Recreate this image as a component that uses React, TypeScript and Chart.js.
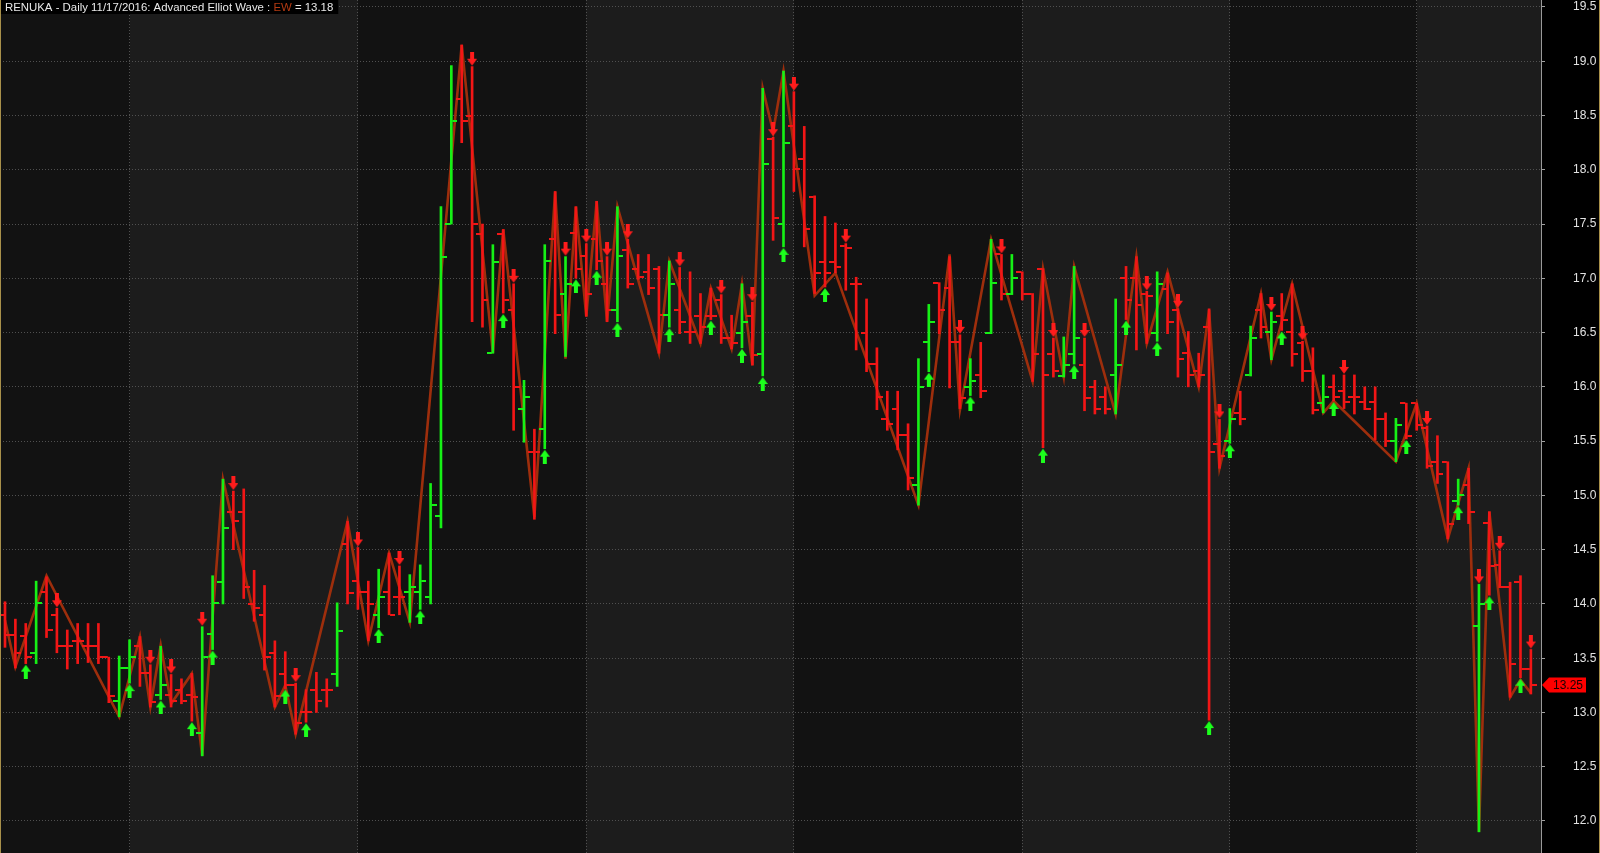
import React, { useEffect, useRef } from "react";
import { Chart, registerables } from "chart.js";
Chart.register(...registerables);

// ---------------- data ----------------
const TITLE = "RENUKA - Daily 11/17/2016: Advanced Elliot Wave : ";
const EW_NAME = "EW";

const opens = [
  13.90, 13.71, 13.70, 13.55, 14.11, 13.90, 13.61, 13.66, 13.61, 13.61,
  13.51, 13.11, 13.41, 13.61, 13.36, 13.16, 13.16, 13.21, 13.16, 12.81,
  13.72, 14.20, 14.85, 14.85, 14.00, 13.90, 13.55, 13.35, 13.25, 13.00,
  13.21, 13.21, 13.35, 14.55, 14.21, 14.11, 13.90, 14.11, 14.06, 14.11,
  14.11, 14.06, 14.81, 17.50, 18.65, 18.50, 17.41, 16.31, 17.41, 16.71,
  15.80, 15.40, 15.61, 17.36, 16.86, 17.42, 17.21, 17.36, 16.95, 16.71,
  17.26, 17.09, 17.06, 17.09, 16.66, 16.71, 16.51, 16.65, 16.65, 16.80,
  16.45, 16.50, 16.65, 16.30, 18.28, 17.50, 18.40, 18.10, 17.75, 17.15,
  17.15, 17.30, 16.95, 16.50, 16.21, 15.70, 15.80, 15.56, 15.10, 16.41,
  16.96, 16.91, 16.41, 16.00, 16.11, 16.50, 17.22, 16.86, 17.06, 16.86,
  17.09, 16.30, 16.10, 16.30, 16.20, 16.00, 15.91, 16.11, 17.00, 17.00,
  16.86, 16.50, 16.90, 16.71, 16.31, 16.15, 16.55, 15.47, 15.50, 15.76,
  16.11, 16.71, 16.51, 16.65, 16.51, 16.40, 16.15, 15.85, 16.00, 15.96,
  15.91, 15.86, 15.86, 15.70, 15.50, 15.85, 15.85, 15.62, 15.31, 15.31,
  14.95, 15.10, 13.80, 14.75, 14.36, 14.16, 14.20, 13.40,
];
const highs = [
  14.02, 13.86, 13.82, 14.21, 14.25, 13.96, 13.76, 13.82, 13.82, 13.82,
  13.51, 13.52, 13.67, 13.70, 13.44, 13.61, 13.35, 13.31, 13.36, 13.79,
  14.26, 15.15, 15.04, 15.06, 14.31, 14.17, 13.66, 13.56, 13.27, 13.21,
  13.37, 13.31, 14.01, 14.76, 14.52, 14.21, 14.32, 14.47, 14.35, 14.27,
  14.36, 15.11, 17.66, 18.96, 19.15, 18.95, 17.50, 17.31, 17.45, 16.95,
  16.06, 15.61, 17.31, 17.80, 17.20, 17.66, 17.32, 17.71, 17.20, 17.66,
  17.36, 17.22, 17.22, 17.11, 17.16, 17.10, 17.06, 16.86, 16.91, 16.85,
  16.66, 16.95, 16.78, 18.75, 18.30, 18.91, 18.72, 18.40, 17.76, 17.57,
  17.51, 17.32, 17.01, 16.81, 16.36, 15.96, 15.96, 15.66, 16.26, 16.76,
  16.96, 17.20, 16.48, 16.26, 16.41, 17.36, 17.22, 17.22, 17.06, 16.86,
  17.09, 16.45, 16.46, 17.11, 16.45, 16.06, 16.00, 16.81, 17.11, 17.20,
  16.88, 17.06, 17.05, 16.72, 16.51, 16.31, 16.72, 15.70, 15.80, 15.96,
  16.56, 16.86, 16.69, 16.86, 16.95, 16.42, 16.36, 16.11, 16.11, 16.11,
  16.11, 16.00, 16.00, 15.76, 15.71, 15.85, 15.85, 15.64, 15.55, 15.31,
  15.15, 15.25, 14.18, 14.85, 14.49, 14.20, 14.26, 13.58,
];
const lows = [
  13.60, 13.41, 13.45, 13.45, 13.69, 13.55, 13.40, 13.45, 13.46, 13.45,
  13.09, 12.96, 13.27, 13.24, 13.05, 13.12, 13.05, 13.08, 12.92, 12.60,
  13.58, 14.00, 14.50, 14.05, 13.84, 13.39, 13.05, 13.22, 12.80, 12.91,
  13.00, 13.05, 13.24, 14.00, 13.95, 13.66, 13.78, 13.90, 13.90, 13.83,
  13.95, 14.00, 14.70, 17.50, 18.25, 16.60, 16.55, 16.31, 16.68, 15.60,
  15.49, 14.78, 15.43, 16.49, 16.28, 17.00, 16.65, 17.08, 16.60, 16.60,
  16.91, 16.99, 16.85, 16.31, 16.55, 16.49, 16.40, 16.40, 16.62, 16.40,
  16.35, 16.36, 16.20, 16.10, 17.35, 17.29, 17.80, 17.29, 16.86, 16.92,
  17.05, 16.89, 16.34, 16.14, 15.79, 15.60, 15.42, 15.05, 14.91, 16.14,
  16.49, 15.99, 15.80, 15.92, 15.90, 16.49, 16.80, 16.85, 16.80, 16.05,
  15.44, 16.09, 16.09, 16.21, 15.78, 15.75, 15.75, 15.75, 16.62, 16.34,
  16.40, 16.42, 16.49, 16.09, 16.00, 16.00, 12.93, 15.25, 15.48, 15.65,
  16.10, 16.45, 16.25, 16.52, 16.19, 16.05, 15.75, 15.76, 15.87, 15.80,
  15.75, 15.79, 15.51, 15.45, 15.31, 15.52, 15.60, 15.25, 15.11, 14.60,
  14.91, 14.74, 11.90, 14.08, 14.15, 13.14, 13.32, 13.17,
];
const closes = [
  13.71, 13.55, 13.51, 14.01, 13.76, 13.61, 13.61, 13.66, 13.61, 13.51,
  13.15, 13.41, 13.51, 13.36, 13.10, 13.25, 13.11, 13.11, 13.14, 13.51,
  14.01, 14.70, 14.76, 14.16, 13.96, 13.51, 13.15, 13.25, 12.90, 13.00,
  13.11, 13.21, 13.75, 14.10, 14.11, 14.00, 14.06, 13.90, 14.06, 14.16,
  14.21, 14.91, 17.20, 18.45, 18.45, 17.50, 16.80, 17.15, 16.80, 16.00,
  15.91, 15.40, 17.16, 16.66, 16.95, 17.09, 16.86, 17.16, 16.71, 17.21,
  16.95, 17.01, 16.91, 16.66, 16.95, 16.60, 16.51, 16.55, 16.65, 16.45,
  16.40, 16.60, 16.29, 18.05, 17.56, 18.25, 18.01, 17.45, 17.05, 17.05,
  17.10, 17.28, 16.95, 16.21, 15.91, 15.66, 15.56, 15.16, 16.00, 16.60,
  16.71, 16.41, 15.90, 16.05, 15.96, 16.96, 16.86, 17.00, 16.86, 16.30,
  16.11, 16.15, 16.20, 16.45, 15.90, 15.80, 15.80, 16.20, 16.80, 16.75,
  16.84, 16.95, 16.60, 16.26, 16.11, 16.11, 15.40, 15.36, 15.70, 15.70,
  16.45, 16.55, 16.60, 16.62, 16.30, 16.15, 15.79, 15.91, 15.91, 15.86,
  15.91, 15.80, 15.70, 15.50, 15.65, 15.55, 15.65, 15.27, 15.20, 14.74,
  15.00, 14.85, 14.00, 14.35, 14.16, 13.45, 13.40, 13.25,
];

const waveIdx = [
  0, 1, 4, 11, 13, 14, 15, 16, 18, 19,
  21, 26, 27, 28, 33, 35, 37, 39, 44, 47,
  48, 51, 53, 54, 55, 56, 57, 58, 59, 63,
  64, 67, 68, 70, 71, 72, 73, 74, 75, 78,
  80, 88, 91, 92, 95, 99, 100, 102, 103, 107,
  109, 110, 112, 115, 116, 117, 121, 122, 124, 127,
  128, 134, 136, 139, 141, 142, 143, 145, 146, 147,
];
const waveVals = [
  13.85, 13.42, 14.26, 12.96, 13.70, 13.05, 13.62, 13.08, 13.36, 12.60,
  15.15, 13.05, 13.25, 12.80, 14.76, 13.66, 14.47, 13.83, 19.15, 16.31,
  17.45, 14.80, 17.80, 16.26, 17.66, 16.65, 17.71, 16.60, 17.66, 16.31,
  17.16, 16.40, 16.91, 16.35, 16.95, 16.20, 18.75, 18.35, 18.91, 16.84,
  17.05, 14.91, 17.22, 15.79, 17.36, 16.05, 17.09, 16.09, 17.11, 15.75,
  17.20, 16.40, 17.06, 16.00, 16.71, 15.25, 16.86, 16.25, 16.95, 15.76,
  15.87, 15.31, 15.85, 14.60, 15.25, 11.90, 14.85, 13.14, 13.30, 13.18,
];

const upArrowIdx = [
  2, 12, 15, 18, 20, 27, 29, 36, 40, 48, 52, 55, 57, 59, 64, 68, 71,
  73, 75, 79, 89, 93, 100, 103, 108, 111, 116, 118, 123, 128, 135, 140, 143, 146,
];
const downArrowIdx = [
  5, 14, 16, 19, 22, 28, 34, 38, 45, 49, 54, 56, 58, 60, 65, 69, 72,
  74, 76, 81, 92, 96, 101, 104, 110, 113, 117, 122, 125, 129, 137, 142, 144, 147,
];

const monthStartIdx = [12, 34, 56, 76, 98, 118, 136];
const yTickValues = [12.0, 12.5, 13.0, 13.5, 14.0, 14.5, 15.0, 15.5, 16.0, 16.5, 17.0, 17.5, 18.0, 18.5, 19.0, 19.5];

// ---------------- styles ----------------
const GREEN = "#16f016";
const RED = "#f21616";
const WAVE = "#9e2e0c";
const BAND_DARK = "#121212";
const BAND_LIGHT = "#1c1c1c";
const GRID = "#505050";
const FONT = '"Liberation Sans", Arial, sans-serif';

function makeTick(color: string, left: boolean) {
  const c = document.createElement("canvas");
  c.width = 12;
  c.height = 2;
  const g = c.getContext("2d")!;
  g.fillStyle = color;
  g.fillRect(left ? 0 : 7, 0, 5, 2);
  return c;
}

function makeArrow(color: string, up: boolean) {
  const W = 10;
  const A = 14;
  const HEAD = 7;
  const G = 1;
  const c = document.createElement("canvas");
  c.width = W;
  c.height = 2 * (A + G);
  const g = c.getContext("2d")!;
  g.fillStyle = color;
  const mid = A + G;
  g.beginPath();
  if (up) {
    const tip = mid + G;
    g.moveTo(W / 2, tip);
    g.lineTo(W, tip + HEAD);
    g.lineTo(0, tip + HEAD);
    g.closePath();
    g.fill();
    g.fillRect(3, tip + HEAD, 4, A - HEAD);
  } else {
    const tip = mid - G;
    g.moveTo(W / 2, tip);
    g.lineTo(W, tip - HEAD);
    g.lineTo(0, tip - HEAD);
    g.closePath();
    g.fill();
    g.fillRect(3, tip - A, 4, A - HEAD);
  }
  return c;
}

export default function App() {
  const ref = useRef<HTMLCanvasElement>(null);

  useEffect(() => {
    document.body.style.margin = "0";
    document.body.style.background = "#000";
    const canvas = ref.current!;

    const openG = makeTick(GREEN, true);
    const openR = makeTick(RED, true);
    const closeG = makeTick(GREEN, false);
    const closeR = makeTick(RED, false);
    const upImg = makeArrow("#1cff1c", true);
    const downImg = makeArrow("#ff1c1c", false);

    const isUp = (i: number) => closes[i] > opens[i];
    const n = closes.length;

    // axis frame (pixel layout of the reference)
    const barStep = 10.38;
    const xMin = -5 / barStep;
    const xMax = 1536 / barStep;
    const pxPerUnit = 814 / 7.5;
    const yMax = 19.5 + 7 / pxPerUnit;
    const yMin = 12.0 - 32 / pxPerUnit;

    const bgPlugin = {
      id: "bgBands",
      beforeDraw(chart: any) {
        const { ctx, chartArea: a, scales } = chart;
        const x = scales.x;
        ctx.save();
        ctx.fillStyle = "#000";
        ctx.fillRect(0, 0, chart.width, chart.height);
        const edges = [x.min, ...monthStartIdx, x.max];
        for (let k = 0; k < edges.length - 1; k++) {
          const x0 = Math.round(x.getPixelForValue(edges[k]));
          const x1 = Math.round(x.getPixelForValue(edges[k + 1]));
          ctx.fillStyle = k % 2 === 0 ? BAND_DARK : BAND_LIGHT;
          ctx.fillRect(x0, a.top, x1 - x0, a.bottom - a.top);
        }
        ctx.restore();
      },
      afterDraw(chart: any) {
        const { ctx, chartArea: a, scales } = chart;
        const y = scales.y;
        ctx.save();
        // title
        ctx.font = "11.4px " + FONT;
        ctx.textBaseline = "alphabetic";
        const tail = " = " + waveVals[waveVals.length - 1].toFixed(2);
        const w1 = ctx.measureText(TITLE).width;
        const w2 = ctx.measureText(EW_NAME).width;
        const w3 = ctx.measureText(tail).width;
        ctx.fillStyle = "#000";
        ctx.fillRect(0, 0, 5 + w1 + w2 + w3 + 5, 14);
        ctx.fillStyle = "#e8e8e8";
        ctx.fillText(TITLE, 5, 11);
        ctx.fillStyle = "#b33a12";
        ctx.fillText(EW_NAME, 5 + w1, 11);
        ctx.fillStyle = "#e8e8e8";
        ctx.fillText(tail, 5 + w1 + w2, 11);

        // last close tag
        ctx.font = "12px " + FONT;
        const last = closes[n - 1];
        const py = Math.round(y.getPixelForValue(last));
        const xl = a.right + 1;
        ctx.fillStyle = "#ff0000";
        ctx.beginPath();
        ctx.moveTo(xl, py);
        ctx.lineTo(xl + 7, py - 7.5);
        ctx.lineTo(1586, py - 7.5);
        ctx.lineTo(1586, py + 7.5);
        ctx.lineTo(xl + 7, py + 7.5);
        ctx.closePath();
        ctx.fill();
        ctx.fillStyle = "#1a0000";
        ctx.textBaseline = "middle";
        ctx.textAlign = "left";
        ctx.fillText(last.toFixed(2), 1553, py + 0.5);

        // window borders
        ctx.fillStyle = "#a8904a";
        ctx.fillRect(0, 0, 1, chart.height);
        ctx.fillRect(chart.width - 1, 0, 1, chart.height);
        ctx.restore();
      },
    };

    const chart = new Chart(canvas, {
      type: "scatter",
      data: {
        datasets: [
          {
            type: "line",
            label: "EW",
            data: waveIdx.map((i, k) => ({ x: i, y: waveVals[k] })),
            borderColor: WAVE,
            borderWidth: 2.6,
            pointRadius: 0,
            tension: 0,
            fill: false,
            order: 4,
          } as any,
          {
            type: "bar",
            label: "HL",
            data: closes.map((_, i) => ({ x: i, y: [lows[i], highs[i]] })),
            backgroundColor: closes.map((_, i) => (isUp(i) ? GREEN : RED)),
            borderWidth: 0,
            barThickness: 2,
            order: 3,
          } as any,
          {
            type: "scatter",
            label: "Open",
            data: opens.map((v, i) => ({ x: i, y: v })),
            pointStyle: opens.map((_, i) => (isUp(i) ? openG : openR)),
            pointRadius: 6,
            showLine: false,
            order: 2,
          } as any,
          {
            type: "scatter",
            label: "Close",
            data: closes.map((v, i) => ({ x: i, y: v })),
            pointStyle: closes.map((_, i) => (isUp(i) ? closeG : closeR)),
            pointRadius: 6,
            showLine: false,
            order: 2,
          } as any,
          {
            type: "scatter",
            label: "Buy",
            data: upArrowIdx.map((i) => ({ x: i, y: lows[i] })),
            pointStyle: upImg,
            pointRadius: 8,
            showLine: false,
            order: 1,
          } as any,
          {
            type: "scatter",
            label: "Sell",
            data: downArrowIdx.map((i) => ({ x: i, y: highs[i] })),
            pointStyle: downImg,
            pointRadius: 8,
            showLine: false,
            order: 1,
          } as any,
        ],
      },
      options: {
        animation: false,
        responsive: false,
        devicePixelRatio: 1,
        events: [],
        layout: { padding: 0, autoPadding: false },
        plugins: {
          legend: { display: false },
          tooltip: { enabled: false },
          title: { display: false },
        },
        scales: {
          x: {
            type: "linear",
            position: "bottom",
            min: xMin,
            max: xMax,
            bounds: "data",
            offset: false,
            afterBuildTicks: (s: any) => {
              s.ticks = monthStartIdx.map((v) => ({ value: v }));
            },
            afterFit: (s: any) => {
              s.height = 0;
              s.paddingLeft = 0;
              s.paddingRight = 0;
            },
            ticks: { display: false },
            grid: {
              display: true,
              drawTicks: false,
              offset: false,
              color: GRID,
              lineWidth: 1,
            },
            border: { display: false, dash: [1, 2] },
          },
          y: {
            type: "linear",
            position: "right",
            min: yMin,
            max: yMax,
            bounds: "data",
            afterBuildTicks: (s: any) => {
              s.ticks = yTickValues.map((v) => ({ value: v }));
            },
            afterFit: (s: any) => {
              s.width = 59;
              s.paddingTop = 0;
              s.paddingBottom = 0;
            },
            ticks: {
              color: "#e2e2e2",
              font: { family: FONT, size: 12 },
              padding: 28,
              crossAlign: "near",
              autoSkip: false,
              callback: (v: any) => Number(v).toFixed(1),
            },
            grid: {
              color: GRID,
              lineWidth: 1,
              drawTicks: true,
              tickLength: 4,
              tickColor: "#a0a0a0",
              tickBorderDash: [],
            },
            border: { display: true, color: "#9a9a9a", width: 1, dash: [1, 2] },
          },
        },
      } as any,
      plugins: [bgPlugin as any],
    });

    return () => chart.destroy();
  }, []);

  return (
    <div style={{ position: "fixed", left: 0, top: 0, width: 1600, height: 853, background: "#000" }}>
      <canvas ref={ref} width={1600} height={853} style={{ display: "block", width: 1600, height: 853 }} />
    </div>
  );
}
